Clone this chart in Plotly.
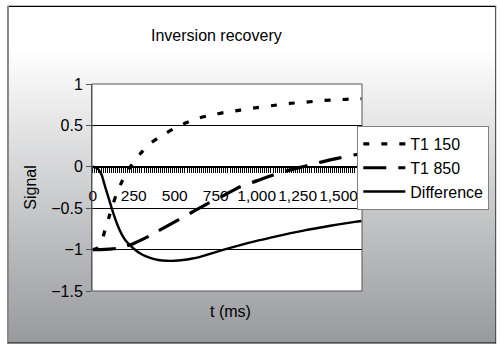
import base64
import struct
import zlib

import plotly.graph_objects as go

# Sample times (ms) and signal values for the inversion-recovery curves
t_ms = [0, 25, 50, 75, 100, 125, 150, 175, 200, 250, 300, 350, 400, 450, 500,
        550, 600, 650, 700, 750, 800, 900, 1000, 1100, 1200, 1300, 1400, 1500,
        1600, 1640]

t1_150 = [-1.0, -0.985, -0.92, -0.76, -0.60, -0.44, -0.30, -0.19, -0.09, 0.06,
          0.18, 0.28, 0.35, 0.41, 0.465, 0.515, 0.555, 0.59, 0.615, 0.635,
          0.655, 0.685, 0.715, 0.74, 0.765, 0.78, 0.80, 0.81, 0.82, 0.822]

t1_850 = [-1.0, -1.0, -1.0, -0.998, -0.995, -0.99, -0.985, -0.975, -0.96,
          -0.925, -0.88, -0.83, -0.775, -0.72, -0.665, -0.61, -0.555, -0.50,
          -0.445, -0.395, -0.345, -0.24, -0.17, -0.10, -0.04, 0.01, 0.06,
          0.105, 0.145, 0.155]

difference = [0.0, -0.015, -0.08, -0.24, -0.40, -0.56, -0.70, -0.81, -0.89,
              -0.99, -1.06, -1.10, -1.125, -1.135, -1.135, -1.125, -1.11,
              -1.09, -1.06, -1.03, -1.00, -0.945, -0.895, -0.85, -0.805,
              -0.765, -0.73, -0.695, -0.665, -0.655]

x_tickvals = [0, 250, 500, 750, 1000, 1250, 1500]
x_ticktext = ["0", "250", "500", "750", "1,000", "1,250", "1,500"]
y_tickvals = [1, 0.5, 0, -0.5, -1, -1.5]
y_ticktext = ["1", "0.5", "0", "\u22120.5", "\u22121", "\u22121.5"]

W, H = 500, 350
L, R, T, B = 92.3, 361.7, 84.0, 290.7
FONT = "Liberation Sans, Arial, sans-serif"


def px_x(px):
    return (px - L) / (R - L)


def px_y(py):
    return (B - py) / (B - T)


def shade(py):
    """Background grey at pixel row py (light at the top, darker below)."""
    v = 244 - 0.35 * (py - 80)
    v = max(min(v, 255.0), 0.0)
    k = max(0.0, (255 - v) / 100)
    return (int(round(v)),
            int(round(min(255, v + 1.5 * k))),
            int(round(min(255, v + 5 * k))))


def png_uri(rows):
    """1-pixel-wide RGB PNG (rows top to bottom) as a data URI."""
    raw = b"".join(b"\x00" + bytes(c) for c in rows)

    def chunk(tag, data):
        crc = zlib.crc32(tag + data) & 0xFFFFFFFF
        return struct.pack(">I", len(data)) + tag + data + struct.pack(">I", crc)

    ihdr = struct.pack(">IIBBBBB", 1, len(rows), 8, 2, 0, 0, 0)
    png = (b"\x89PNG\r\n\x1a\n" + chunk(b"IHDR", ihdr)
           + chunk(b"IDAT", zlib.compress(raw)) + chunk(b"IEND", b""))
    return "data:image/png;base64," + base64.b64encode(png).decode()


def gradient_piece(x0, x1, y0, y1):
    n = max(1, int(round(y1 - y0)))
    rows = [shade(y0 + (i + 0.5) * (y1 - y0) / n) for i in range(n)]
    return dict(source=png_uri(rows), xref="paper", yref="paper",
                layer="below", x=px_x(x0), y=px_y(y0),
                sizex=(x1 - x0) / (R - L), sizey=(y1 - y0) / (B - T),
                xanchor="left", yanchor="top", sizing="stretch")


# chart frame background, drawn around the plotting area
FT, FB, FL, FR = 6.0, 343.0, 8.0, 495.0
images = [
    gradient_piece(FL, FR, FT, T),
    gradient_piece(FL, FR, B, FB),
    gradient_piece(FL, L, T, B),
    gradient_piece(R, FR, T, B),
]

fig = go.Figure()
fig.add_trace(go.Scatter(x=t_ms, y=t1_150, name="T1 150", mode="lines",
                         line=dict(color="black", width=3.2, dash="6px,12px",
                                   shape="spline", smoothing=0.8)))
fig.add_trace(go.Scatter(x=t_ms, y=t1_850, name="T1 850", mode="lines",
                         line=dict(color="black", width=3.2, dash="23px,12px",
                                   shape="spline", smoothing=0.8)))
fig.add_trace(go.Scatter(x=t_ms, y=difference, name="Difference", mode="lines",
                         line=dict(color="black", width=2.4,
                                   shape="spline", smoothing=0.8)))

shapes = [
    # white plotting area
    dict(type="rect", xref="paper", yref="paper", layer="below",
         x0=0, x1=1, y0=0, y1=1, fillcolor="white", line=dict(width=0)),
    # plot area border
    dict(type="rect", xref="paper", yref="paper", layer="above",
         x0=0, x1=1, y0=0, y1=1, line=dict(color="#555555", width=1)),
    # outer chart frame
    dict(type="line", xref="paper", yref="paper", layer="above",
         x0=px_x(8), x1=px_x(495.5), y0=px_y(6.5), y1=px_y(6.5),
         line=dict(color="black", width=1.2)),
    dict(type="line", xref="paper", yref="paper", layer="above",
         x0=px_x(8.5), x1=px_x(8.5), y0=px_y(6), y1=px_y(343),
         line=dict(color="#8a8a8a", width=2)),
    dict(type="line", xref="paper", yref="paper", layer="above",
         x0=px_x(495), x1=px_x(495), y0=px_y(6), y1=px_y(343),
         line=dict(color="#555555", width=1.2)),
    dict(type="line", xref="paper", yref="paper", layer="above",
         x0=px_x(8), x1=px_x(495.5), y0=px_y(342.5), y1=px_y(342.5),
         line=dict(color="#333333", width=1.2)),
]

annotations = [
    dict(text="Inversion recovery", x=px_x(216.7), y=px_y(35.5),
         xref="paper", yref="paper", showarrow=False,
         xanchor="center", yanchor="middle", font=dict(size=16, color="black")),
    dict(text="Signal", x=px_x(31.5), y=px_y(187.5), textangle=-90,
         xref="paper", yref="paper", showarrow=False,
         xanchor="center", yanchor="middle", font=dict(size=16, color="black")),
    dict(text="t (ms)", x=px_x(230.7), y=px_y(311),
         xref="paper", yref="paper", showarrow=False,
         xanchor="center", yanchor="middle", font=dict(size=16, color="black")),
]

fig.update_layout(
    width=W, height=H,
    margin=dict(l=L, r=W - R, t=T, b=H - B, autoexpand=False),
    paper_bgcolor="white", plot_bgcolor="rgba(0,0,0,0)",
    font=dict(family=FONT, size=16, color="black"),
    showlegend=True,
    legend=dict(x=px_x(357), y=px_y(126), xanchor="left", yanchor="top",
                bgcolor="white", bordercolor="#808080", borderwidth=1,
                font=dict(size=16, color="black"), itemwidth=42,
                tracegroupgap=0),
    images=images,
    shapes=shapes,
    annotations=annotations,
    xaxis=dict(range=[-5, 1643], anchor="free", position=0.6,
               tickmode="array", tickvals=x_tickvals, ticktext=x_ticktext,
               tickangle=0,
               ticks="outside", ticklen=5, tickcolor="black", tickwidth=1,
               ticklabelstandoff=10,
               minor=dict(tick0=0, dtick=12.5, ticks="outside", ticklen=5,
                          tickcolor="black", tickwidth=1, showgrid=False),
               showline=True, linecolor="black", linewidth=1,
               showgrid=False, zeroline=False,
               tickfont=dict(size=15.5, color="black")),
    yaxis=dict(range=[-1.5, 1], domain=[0, 1],
               tickmode="array", tickvals=y_tickvals, ticktext=y_ticktext,
               ticks="outside", ticklen=5, tickcolor="#555555",
               showline=True, linecolor="#555555", linewidth=1,
               showgrid=True, gridcolor="black", gridwidth=1,
               zeroline=False, tickfont=dict(size=16, color="black")),
)

fig.write_html("out.html")
